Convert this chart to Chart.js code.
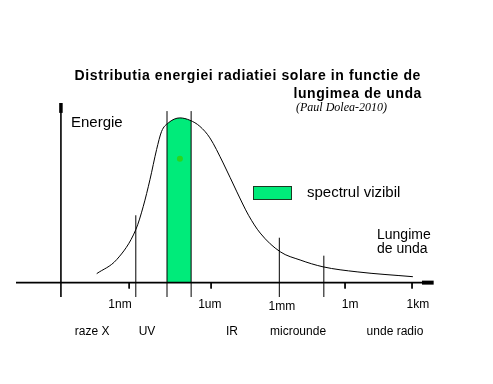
<!DOCTYPE html>
<html>
<head>
<meta charset="utf-8">
<script src="https://cdn.jsdelivr.net/npm/chart.js@4.4.1/dist/chart.umd.min.js"></script>
<style>
html,body{margin:0;padding:0;background:#fff;}
#wrap{width:493px;height:384px;}
</style>
</head>
<body>
<div id="wrap"><canvas id="main-chart"></canvas></div>
<script>
// position along the wavelength axis (0..100) and relative energy
const curveX=[19.4,24.2,28.8,30.6,32.2,33.8,35.0,36.6,39.4,41.8,44.2,46.6,49.8,53.1,55.9,58.7,63.5,68.3,73.8,82.0,95.4];
const curveE=[5.0,12.8,29.5,42.5,57.3,74.1,84.2,88.9,91.7,90.4,87.0,80.6,66.6,50.5,37.5,27.6,17.2,12.6,8.8,6.0,3.3];
const visibleX=[36.3,36.6,37.8,39.4,40.6,41.8,42.1];
const visibleE=[88.3,88.9,90.8,91.7,91.4,90.4,90.1];
const dividerX=[28.8,36.3,42.1,63.3,74.0];
const dividerTop=[37.5,95.5,95.5,25.0,15.0];
const smallTickX=[27.2,46.9,79.1,95.2];
const unitLabels=["1nm","1um","1mm","1m","1km"];
const unitLabelX=[25.0,46.6,63.9,80.3,96.6];
const bandLabels=["raze X","UV","IR","microunde","unde radio"];
const bandLabelX=[18.3,31.5,51.9,67.8,91.1];
const energyAxisX=10.8;

function segments(xs,tops,bottom){
    const pts=[];
    xs.forEach((x,i)=>{
        pts.push({x:x,y:bottom});
        pts.push({x:x,y:tops[i]});
        pts.push({x:x,y:null});
    });
    return pts;
}

const black='#000';
const green='rgb(0,235,122)';

const textPlugin={
    id:'texts',
    afterDatasetsDraw(chart){
        const ctx=chart.ctx;
        const xs=chart.scales.x;
        ctx.save();
        ctx.fillStyle='#000';
        ctx.textBaseline='alphabetic';
        ctx.font='bold 14px "Liberation Sans", Arial, sans-serif';
        ctx.letterSpacing='0.6px';
        ctx.textAlign='right';
        ctx.fillText('Distributia energiei radiatiei solare in functie de',421,80);
        ctx.fillText('lungimea de unda',422,98);
        ctx.letterSpacing='0px';
        ctx.font='italic 12px "Liberation Serif", "Times New Roman", serif';
        ctx.fillText('(Paul Dolea-2010)',387,111);
        ctx.textAlign='left';
        ctx.font='15px "Liberation Sans", Arial, sans-serif';
        ctx.fillText('Energie',71,127);
        ctx.fillText('spectrul vizibil',307,197);
        ctx.font='14px "Liberation Sans", Arial, sans-serif';
        ctx.fillText('Lungime',377,239);
        ctx.fillText('de unda',377,253);
        // legend swatch
        ctx.fillStyle=green;
        ctx.fillRect(253,186,39,14);
        ctx.strokeStyle='#1a3a22';
        ctx.lineWidth=1;
        ctx.strokeRect(253.5,186.5,38,13);
        ctx.fillStyle='#000';
        ctx.font='12px "Liberation Sans", Arial, sans-serif';
        ctx.textAlign='center';
        unitLabels.forEach((t,i)=>ctx.fillText(t,xs.getPixelForValue(unitLabelX[i]),308+(i===2?2:0)));
        bandLabels.forEach((t,i)=>ctx.fillText(t,xs.getPixelForValue(bandLabelX[i]),335));
        ctx.restore();
    }
};

function createChart(){
    const ctx=document.getElementById("main-chart").getContext("2d");
    new Chart(ctx,{
        type:'line',
        data:{
            datasets:[
                {
                    label:'Energie',
                    data:curveX.map((x,i)=>({x:x,y:curveE[i]})),
                    borderColor:black,
                    borderWidth:1,
                    pointRadius:0,
                    cubicInterpolationMode:'monotone',
                    order:1
                },
                {
                    label:'spectrul vizibil',
                    data:visibleX.map((x,i)=>({x:x,y:visibleE[i]})),
                    borderWidth:0,
                    borderColor:green,
                    backgroundColor:green,
                    fill:'origin',
                    pointRadius:0,
                    cubicInterpolationMode:'monotone',
                    order:10
                },
                {
                    label:'dot',
                    data:[{x:39.4,y:69}],
                    showLine:false,
                    pointRadius:3,
                    pointBackgroundColor:'rgb(40,215,30)',
                    pointBorderWidth:0,
                    order:5
                },
                {
                    label:'dividers',
                    data:segments(dividerX,dividerTop,-8),
                    borderColor:black,
                    borderWidth:1,
                    pointRadius:0,
                    spanGaps:false,
                    order:2
                },
                {
                    label:'ticks',
                    data:segments(smallTickX,smallTickX.map(()=>-3.3),0),
                    borderColor:black,
                    borderWidth:1,
                    pointRadius:0,
                    spanGaps:false,
                    order:2
                },
                {
                    label:'wavelength axis',
                    data:[{x:0,y:0},{x:100,y:0}],
                    borderColor:black,
                    borderWidth:1.6,
                    pointRadius:0,
                    order:2
                },
                {
                    label:'axis end',
                    data:[{x:97.6,y:0},{x:100.4,y:0}],
                    borderColor:black,
                    borderWidth:4,
                    pointRadius:0,
                    order:2
                },
                {
                    label:'energy axis',
                    data:[{x:energyAxisX,y:-8},{x:energyAxisX,y:100}],
                    borderColor:black,
                    borderWidth:1.6,
                    pointRadius:0,
                    order:2
                },
                {
                    label:'energy axis end',
                    data:[{x:energyAxisX,y:94.5},{x:energyAxisX,y:100}],
                    borderColor:black,
                    borderWidth:3.5,
                    borderCapStyle:'butt',
                    pointRadius:0,
                    order:2
                }
            ]
        },
        options:{
            responsive:true,
            maintainAspectRatio:false,
            animation:false,
            layout:{padding:{left:16,right:61,top:103,bottom:87}},
            scales:{
                x:{type:'linear',min:0,max:100,display:false},
                y:{type:'linear',min:-8,max:100,display:false}
            },
            plugins:{
                legend:{display:false},
                tooltip:{enabled:false}
            },
            elements:{line:{tension:0}},
            clip:false
        },
        plugins:[textPlugin]
    });
}

createChart();
</script>
</body>
</html>
